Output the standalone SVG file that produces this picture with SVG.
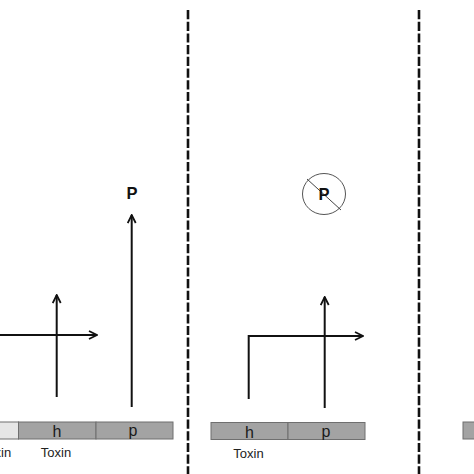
<svg xmlns="http://www.w3.org/2000/svg" width="474" height="474" viewBox="0 0 474 474">
<style>
.bar{fill:#a3a3a3;stroke:#6f6f6f;stroke-width:1}
.bar-light{fill:#e6e6e6;stroke:#6f6f6f;stroke-width:1}
.lbl{font-family:"Liberation Sans",Arial,sans-serif;font-size:16px;fill:#1a1a1a;text-anchor:middle}
.cap{font-family:"Liberation Sans",Arial,sans-serif;font-size:13px;fill:#222;text-anchor:middle}
.pl{font-family:"Liberation Sans",Arial,sans-serif;font-size:16.5px;font-weight:bold;fill:#111;text-anchor:middle}
.arr{fill:none;stroke:#111;stroke-width:2;marker-end:url(#head)}
.div{stroke:#111;stroke-width:2.6;stroke-dasharray:9.2 2.5}
</style>
<defs>
<marker id="head" viewBox="0 0 10 10" refX="9" refY="5" markerWidth="10" markerHeight="10" markerUnits="userSpaceOnUse" orient="auto">
<path d="M1,1 L9,5 L1,9" fill="none" stroke="#111" stroke-width="1.8"/>
</marker>
</defs>
<rect width="474" height="474" fill="#fff"/>
<g id="dividers">
<line class="div" x1="188" y1="10" x2="188" y2="474"/>
<line class="div" x1="419" y1="10" x2="419" y2="474"/>
</g>
<g id="left-bar">
<rect class="bar-light" x="-2" y="422" width="20.5" height="17"/>
<rect class="bar" x="18.5" y="422" width="77.5" height="17"/>
<rect class="bar" x="96" y="422" width="77" height="17"/>
<text class="lbl" x="57" y="437">h</text>
<text class="lbl" x="133" y="436">p</text>
<text class="cap" x="56" y="457">Toxin</text>
<text class="cap" x="-4" y="457">Toxin</text>
</g>
<g id="middle-bar">
<rect class="bar" x="211" y="422.5" width="77" height="17"/>
<rect class="bar" x="288" y="422.5" width="77" height="17"/>
<text class="lbl" x="249.5" y="437.5">h</text>
<text class="lbl" x="326" y="436.5">p</text>
<text class="cap" x="248.5" y="458">Toxin</text>
</g>
<g id="right-bar">
<rect class="bar" x="463" y="422" width="20" height="17"/>
</g>
<g id="left-P">
<text class="pl" x="132" y="199">P</text>
</g>
<g id="middle-P">
<ellipse cx="324" cy="194" rx="21.5" ry="20.5" fill="none" stroke="#555" stroke-width="1"/>
<line x1="307" y1="179" x2="341" y2="210" stroke="#444" stroke-width="1"/>
<text class="pl" x="324" y="200">P</text>
</g>
<g id="connectors">
<line class="arr" x1="56.7" y1="397" x2="56.7" y2="295"/>
<line class="arr" x1="0" y1="335" x2="97" y2="335"/>
<line class="arr" x1="131.7" y1="407" x2="131.7" y2="215"/>
<line class="arr" x1="324.7" y1="408" x2="324.7" y2="297"/>
<polyline class="arr" points="248.7,399 248.7,336 363,336"/>
</g>
</svg>
